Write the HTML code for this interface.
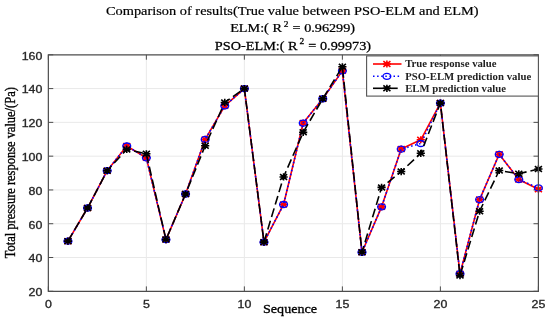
<!DOCTYPE html><html><head><meta charset="utf-8"><style>html,body{margin:0;padding:0;background:#fff;width:550px;height:320px;overflow:hidden}svg{display:block;filter:blur(0.3px)}</style></head><body>
<svg width="550" height="320" viewBox="0 0 550 320">
<rect width="550" height="320" fill="#fff"/>
<path d="M146.36,54.8V291.3M244.37,54.8V291.3M342.38,54.8V291.3M440.39,54.8V291.3M48.35,257.51H538.4M48.35,223.73H538.4M48.35,189.94H538.4M48.35,156.16H538.4M48.35,122.37H538.4M48.35,88.59H538.4" stroke="#e9e9e9" stroke-width="1" fill="none"/>
<path d="M48.35,291.3v-4.9M48.35,54.8v4.9M146.36,291.3v-4.9M146.36,54.8v4.9M244.37,291.3v-4.9M244.37,54.8v4.9M342.38,291.3v-4.9M342.38,54.8v4.9M440.39,291.3v-4.9M440.39,54.8v4.9M538.40,291.3v-4.9M538.40,54.8v4.9M48.35,291.30h4.9M538.4,291.30h-4.9M48.35,257.51h4.9M538.4,257.51h-4.9M48.35,223.73h4.9M538.4,223.73h-4.9M48.35,189.94h4.9M538.4,189.94h-4.9M48.35,156.16h4.9M538.4,156.16h-4.9M48.35,122.37h4.9M538.4,122.37h-4.9M48.35,88.59h4.9M538.4,88.59h-4.9M48.35,54.80h4.9M538.4,54.80h-4.9" stroke="#4d4d4d" stroke-width="1" fill="none"/>
<polyline points="67.95,241.13 87.55,208.02 107.16,170.69 126.76,146.02 146.36,157.85 165.96,239.61 185.56,194.00 205.17,139.43 224.77,105.82 244.37,88.59 263.97,242.14 283.57,204.47 303.18,123.05 322.78,98.72 342.38,70.85 361.98,252.28 381.58,206.84 401.19,149.06 420.79,139.77 440.39,103.11 459.99,273.73 479.59,199.57 499.20,154.30 518.80,179.47 538.40,189.27" stroke="#ff0000" stroke-width="1.6" fill="none" stroke-linejoin="round"/>
<path d="M63.85,241.13H72.05M67.95,237.53V244.73M64.43,238.25L71.48,244.01M64.43,244.01L71.48,238.25" stroke="#ff0000" stroke-width="1.6" fill="none"/>
<path d="M83.45,208.02H91.65M87.55,204.42V211.62M84.03,205.14L91.08,210.90M84.03,210.90L91.08,205.14" stroke="#ff0000" stroke-width="1.6" fill="none"/>
<path d="M103.06,170.69H111.26M107.16,167.09V174.28M103.63,167.81L110.68,173.56M103.63,173.56L110.68,167.81" stroke="#ff0000" stroke-width="1.6" fill="none"/>
<path d="M122.66,146.02H130.86M126.76,142.42V149.62M123.23,143.14L130.28,148.90M123.23,148.90L130.28,143.14" stroke="#ff0000" stroke-width="1.6" fill="none"/>
<path d="M142.26,157.85H150.46M146.36,154.25V161.45M142.83,154.97L149.89,160.73M142.83,160.73L149.89,154.97" stroke="#ff0000" stroke-width="1.6" fill="none"/>
<path d="M161.86,239.61H170.06M165.96,236.01V243.21M162.44,236.73L169.49,242.49M162.44,242.49L169.49,236.73" stroke="#ff0000" stroke-width="1.6" fill="none"/>
<path d="M181.46,194.00H189.66M185.56,190.40V197.60M182.04,191.12L189.09,196.88M182.04,196.88L189.09,191.12" stroke="#ff0000" stroke-width="1.6" fill="none"/>
<path d="M201.07,139.43H209.27M205.17,135.83V143.03M201.64,136.55L208.69,142.31M201.64,142.31L208.69,136.55" stroke="#ff0000" stroke-width="1.6" fill="none"/>
<path d="M220.67,105.82H228.87M224.77,102.22V109.42M221.24,102.94L228.29,108.70M221.24,108.70L228.29,102.94" stroke="#ff0000" stroke-width="1.6" fill="none"/>
<path d="M240.27,88.59H248.47M244.37,84.99V92.19M240.84,85.71L247.90,91.47M240.84,91.47L247.90,85.71" stroke="#ff0000" stroke-width="1.6" fill="none"/>
<path d="M259.87,242.14H268.07M263.97,238.54V245.74M260.45,239.26L267.50,245.02M260.45,245.02L267.50,239.26" stroke="#ff0000" stroke-width="1.6" fill="none"/>
<path d="M279.47,204.47H287.67M283.57,200.87V208.07M280.05,201.59L287.10,207.35M280.05,207.35L287.10,201.59" stroke="#ff0000" stroke-width="1.6" fill="none"/>
<path d="M299.08,123.05H307.28M303.18,119.45V126.65M299.65,120.17L306.70,125.93M299.65,125.93L306.70,120.17" stroke="#ff0000" stroke-width="1.6" fill="none"/>
<path d="M318.68,98.72H326.88M322.78,95.12V102.32M319.25,95.84L326.30,101.60M319.25,101.60L326.30,95.84" stroke="#ff0000" stroke-width="1.6" fill="none"/>
<path d="M338.28,70.85H346.48M342.38,67.25V74.45M338.85,67.97L345.91,73.73M338.85,73.73L345.91,67.97" stroke="#ff0000" stroke-width="1.6" fill="none"/>
<path d="M357.88,252.28H366.08M361.98,248.68V255.88M358.46,249.40L365.51,255.16M358.46,255.16L365.51,249.40" stroke="#ff0000" stroke-width="1.6" fill="none"/>
<path d="M377.48,206.84H385.68M381.58,203.24V210.44M378.06,203.96L385.11,209.72M378.06,209.72L385.11,203.96" stroke="#ff0000" stroke-width="1.6" fill="none"/>
<path d="M397.09,149.06H405.29M401.19,145.46V152.66M397.66,146.18L404.71,151.94M397.66,151.94L404.71,146.18" stroke="#ff0000" stroke-width="1.6" fill="none"/>
<path d="M416.69,139.77H424.89M420.79,136.17V143.37M417.26,136.89L424.31,142.65M417.26,142.65L424.31,136.89" stroke="#ff0000" stroke-width="1.6" fill="none"/>
<path d="M436.29,103.11H444.49M440.39,99.51V106.71M436.86,100.23L443.92,105.99M436.86,105.99L443.92,100.23" stroke="#ff0000" stroke-width="1.6" fill="none"/>
<path d="M455.89,273.73H464.09M459.99,270.13V277.33M456.47,270.85L463.52,276.61M456.47,276.61L463.52,270.85" stroke="#ff0000" stroke-width="1.6" fill="none"/>
<path d="M475.49,199.57H483.69M479.59,195.97V203.17M476.07,196.69L483.12,202.45M476.07,202.45L483.12,196.69" stroke="#ff0000" stroke-width="1.6" fill="none"/>
<path d="M495.10,154.30H503.30M499.20,150.70V157.90M495.67,151.42L502.72,157.18M495.67,157.18L502.72,151.42" stroke="#ff0000" stroke-width="1.6" fill="none"/>
<path d="M514.70,179.47H522.90M518.80,175.87V183.07M515.27,176.59L522.32,182.35M515.27,182.35L522.32,176.59" stroke="#ff0000" stroke-width="1.6" fill="none"/>
<path d="M534.30,189.27H542.50M538.40,185.67V192.87M534.87,186.39L541.93,192.15M534.87,192.15L541.93,186.39" stroke="#ff0000" stroke-width="1.6" fill="none"/>
<polyline points="67.95,241.13 87.55,208.02 107.16,170.69 126.76,146.02 146.36,157.85 165.96,239.61 185.56,194.00 205.17,139.43 224.77,105.82 244.37,88.59 263.97,242.14 283.57,204.47 303.18,123.05 322.78,98.72 342.38,70.85 361.98,252.28 381.58,206.84 401.19,149.06 420.79,143.49 440.39,103.11 459.99,273.73 479.59,199.57 499.20,154.30 518.80,179.47 538.40,187.92" stroke="#0000ff" stroke-width="1.6" fill="none" stroke-dasharray="1.5 2.6"/>
<ellipse cx="67.95" cy="241.13" rx="3.90" ry="3.00" stroke="#0000ff" stroke-width="1.35" fill="none"/>
<ellipse cx="87.55" cy="208.02" rx="3.90" ry="3.00" stroke="#0000ff" stroke-width="1.35" fill="none"/>
<ellipse cx="107.16" cy="170.69" rx="3.90" ry="3.00" stroke="#0000ff" stroke-width="1.35" fill="none"/>
<ellipse cx="126.76" cy="146.02" rx="3.90" ry="3.00" stroke="#0000ff" stroke-width="1.35" fill="none"/>
<ellipse cx="146.36" cy="157.85" rx="3.90" ry="3.00" stroke="#0000ff" stroke-width="1.35" fill="none"/>
<ellipse cx="165.96" cy="239.61" rx="3.90" ry="3.00" stroke="#0000ff" stroke-width="1.35" fill="none"/>
<ellipse cx="185.56" cy="194.00" rx="3.90" ry="3.00" stroke="#0000ff" stroke-width="1.35" fill="none"/>
<ellipse cx="205.17" cy="139.43" rx="3.90" ry="3.00" stroke="#0000ff" stroke-width="1.35" fill="none"/>
<ellipse cx="224.77" cy="105.82" rx="3.90" ry="3.00" stroke="#0000ff" stroke-width="1.35" fill="none"/>
<ellipse cx="244.37" cy="88.59" rx="3.90" ry="3.00" stroke="#0000ff" stroke-width="1.35" fill="none"/>
<ellipse cx="263.97" cy="242.14" rx="3.90" ry="3.00" stroke="#0000ff" stroke-width="1.35" fill="none"/>
<ellipse cx="283.57" cy="204.47" rx="3.90" ry="3.00" stroke="#0000ff" stroke-width="1.35" fill="none"/>
<ellipse cx="303.18" cy="123.05" rx="3.90" ry="3.00" stroke="#0000ff" stroke-width="1.35" fill="none"/>
<ellipse cx="322.78" cy="98.72" rx="3.90" ry="3.00" stroke="#0000ff" stroke-width="1.35" fill="none"/>
<ellipse cx="342.38" cy="70.85" rx="3.90" ry="3.00" stroke="#0000ff" stroke-width="1.35" fill="none"/>
<ellipse cx="361.98" cy="252.28" rx="3.90" ry="3.00" stroke="#0000ff" stroke-width="1.35" fill="none"/>
<ellipse cx="381.58" cy="206.84" rx="3.90" ry="3.00" stroke="#0000ff" stroke-width="1.35" fill="none"/>
<ellipse cx="401.19" cy="149.06" rx="3.90" ry="3.00" stroke="#0000ff" stroke-width="1.35" fill="none"/>
<ellipse cx="420.79" cy="143.49" rx="3.90" ry="3.00" stroke="#0000ff" stroke-width="1.35" fill="none"/>
<ellipse cx="440.39" cy="103.11" rx="3.90" ry="3.00" stroke="#0000ff" stroke-width="1.35" fill="none"/>
<ellipse cx="459.99" cy="273.73" rx="3.90" ry="3.00" stroke="#0000ff" stroke-width="1.35" fill="none"/>
<ellipse cx="479.59" cy="199.57" rx="3.90" ry="3.00" stroke="#0000ff" stroke-width="1.35" fill="none"/>
<ellipse cx="499.20" cy="154.30" rx="3.90" ry="3.00" stroke="#0000ff" stroke-width="1.35" fill="none"/>
<ellipse cx="518.80" cy="179.47" rx="3.90" ry="3.00" stroke="#0000ff" stroke-width="1.35" fill="none"/>
<ellipse cx="538.40" cy="187.92" rx="3.90" ry="3.00" stroke="#0000ff" stroke-width="1.35" fill="none"/>
<polyline points="67.95,241.13 87.55,208.02 107.16,170.69 126.76,149.40 146.36,153.79 165.96,239.61 185.56,194.00 205.17,145.68 224.77,102.44 244.37,88.59 263.97,242.14 283.57,176.94 303.18,132.34 322.78,98.72 342.38,66.79 361.98,252.28 381.58,187.41 401.19,171.53 420.79,153.29 440.39,103.11 459.99,275.59 479.59,211.23 499.20,170.52 518.80,173.73 538.40,169.00" stroke="#000" stroke-width="1.6" fill="none" stroke-dasharray="9 4"/>
<path d="M63.85,241.13H72.05M67.95,237.53V244.73M64.43,238.25L71.48,244.01M64.43,244.01L71.48,238.25" stroke="#000" stroke-width="1.6" fill="none"/>
<path d="M83.45,208.02H91.65M87.55,204.42V211.62M84.03,205.14L91.08,210.90M84.03,210.90L91.08,205.14" stroke="#000" stroke-width="1.6" fill="none"/>
<path d="M103.06,170.69H111.26M107.16,167.09V174.28M103.63,167.81L110.68,173.56M103.63,173.56L110.68,167.81" stroke="#000" stroke-width="1.6" fill="none"/>
<path d="M122.66,149.40H130.86M126.76,145.80V153.00M123.23,146.52L130.28,152.28M123.23,152.28L130.28,146.52" stroke="#000" stroke-width="1.6" fill="none"/>
<path d="M142.26,153.79H150.46M146.36,150.19V157.39M142.83,150.91L149.89,156.67M142.83,156.67L149.89,150.91" stroke="#000" stroke-width="1.6" fill="none"/>
<path d="M161.86,239.61H170.06M165.96,236.01V243.21M162.44,236.73L169.49,242.49M162.44,242.49L169.49,236.73" stroke="#000" stroke-width="1.6" fill="none"/>
<path d="M181.46,194.00H189.66M185.56,190.40V197.60M182.04,191.12L189.09,196.88M182.04,196.88L189.09,191.12" stroke="#000" stroke-width="1.6" fill="none"/>
<path d="M201.07,145.68H209.27M205.17,142.08V149.28M201.64,142.80L208.69,148.56M201.64,148.56L208.69,142.80" stroke="#000" stroke-width="1.6" fill="none"/>
<path d="M220.67,102.44H228.87M224.77,98.84V106.04M221.24,99.56L228.29,105.32M221.24,105.32L228.29,99.56" stroke="#000" stroke-width="1.6" fill="none"/>
<path d="M240.27,88.59H248.47M244.37,84.99V92.19M240.84,85.71L247.90,91.47M240.84,91.47L247.90,85.71" stroke="#000" stroke-width="1.6" fill="none"/>
<path d="M259.87,242.14H268.07M263.97,238.54V245.74M260.45,239.26L267.50,245.02M260.45,245.02L267.50,239.26" stroke="#000" stroke-width="1.6" fill="none"/>
<path d="M279.47,176.94H287.67M283.57,173.34V180.54M280.05,174.06L287.10,179.82M280.05,179.82L287.10,174.06" stroke="#000" stroke-width="1.6" fill="none"/>
<path d="M299.08,132.34H307.28M303.18,128.74V135.94M299.65,129.46L306.70,135.22M299.65,135.22L306.70,129.46" stroke="#000" stroke-width="1.6" fill="none"/>
<path d="M318.68,98.72H326.88M322.78,95.12V102.32M319.25,95.84L326.30,101.60M319.25,101.60L326.30,95.84" stroke="#000" stroke-width="1.6" fill="none"/>
<path d="M338.28,66.79H346.48M342.38,63.19V70.39M338.85,63.91L345.91,69.67M338.85,69.67L345.91,63.91" stroke="#000" stroke-width="1.6" fill="none"/>
<path d="M357.88,252.28H366.08M361.98,248.68V255.88M358.46,249.40L365.51,255.16M358.46,255.16L365.51,249.40" stroke="#000" stroke-width="1.6" fill="none"/>
<path d="M377.48,187.41H385.68M381.58,183.81V191.01M378.06,184.53L385.11,190.29M378.06,190.29L385.11,184.53" stroke="#000" stroke-width="1.6" fill="none"/>
<path d="M397.09,171.53H405.29M401.19,167.93V175.13M397.66,168.65L404.71,174.41M397.66,174.41L404.71,168.65" stroke="#000" stroke-width="1.6" fill="none"/>
<path d="M416.69,153.29H424.89M420.79,149.69V156.89M417.26,150.41L424.31,156.17M417.26,156.17L424.31,150.41" stroke="#000" stroke-width="1.6" fill="none"/>
<path d="M436.29,103.11H444.49M440.39,99.51V106.71M436.86,100.23L443.92,105.99M436.86,105.99L443.92,100.23" stroke="#000" stroke-width="1.6" fill="none"/>
<path d="M455.89,275.59H464.09M459.99,271.99V279.19M456.47,272.71L463.52,278.47M456.47,278.47L463.52,272.71" stroke="#000" stroke-width="1.6" fill="none"/>
<path d="M475.49,211.23H483.69M479.59,207.63V214.83M476.07,208.35L483.12,214.11M476.07,214.11L483.12,208.35" stroke="#000" stroke-width="1.6" fill="none"/>
<path d="M495.10,170.52H503.30M499.20,166.92V174.12M495.67,167.64L502.72,173.40M495.67,173.40L502.72,167.64" stroke="#000" stroke-width="1.6" fill="none"/>
<path d="M514.70,173.73H522.90M518.80,170.13V177.33M515.27,170.85L522.32,176.61M515.27,176.61L522.32,170.85" stroke="#000" stroke-width="1.6" fill="none"/>
<path d="M534.30,169.00H542.50M538.40,165.40V172.60M534.87,166.12L541.93,171.88M534.87,171.88L541.93,166.12" stroke="#000" stroke-width="1.6" fill="none"/>
<path d="M48.35,54.8H538.4V291.3H48.35Z" stroke="#4d4d4d" stroke-width="1.2" fill="none"/>
<text transform="translate(42.4,296.10) scale(1.24,1)" text-anchor="end" style="font-family:'Liberation Sans',Arial,sans-serif;font-size:10px" fill="#262626" stroke="#262626" stroke-width="0.3">20</text>
<text transform="translate(42.4,262.31) scale(1.24,1)" text-anchor="end" style="font-family:'Liberation Sans',Arial,sans-serif;font-size:10px" fill="#262626" stroke="#262626" stroke-width="0.3">40</text>
<text transform="translate(42.4,228.53) scale(1.24,1)" text-anchor="end" style="font-family:'Liberation Sans',Arial,sans-serif;font-size:10px" fill="#262626" stroke="#262626" stroke-width="0.3">60</text>
<text transform="translate(42.4,194.74) scale(1.24,1)" text-anchor="end" style="font-family:'Liberation Sans',Arial,sans-serif;font-size:10px" fill="#262626" stroke="#262626" stroke-width="0.3">80</text>
<text transform="translate(42.4,160.96) scale(1.24,1)" text-anchor="end" style="font-family:'Liberation Sans',Arial,sans-serif;font-size:10px" fill="#262626" stroke="#262626" stroke-width="0.3">100</text>
<text transform="translate(42.4,127.17) scale(1.24,1)" text-anchor="end" style="font-family:'Liberation Sans',Arial,sans-serif;font-size:10px" fill="#262626" stroke="#262626" stroke-width="0.3">120</text>
<text transform="translate(42.4,93.39) scale(1.24,1)" text-anchor="end" style="font-family:'Liberation Sans',Arial,sans-serif;font-size:10px" fill="#262626" stroke="#262626" stroke-width="0.3">140</text>
<text transform="translate(42.4,59.60) scale(1.24,1)" text-anchor="end" style="font-family:'Liberation Sans',Arial,sans-serif;font-size:10px" fill="#262626" stroke="#262626" stroke-width="0.3">160</text>
<text transform="translate(48.35,307.8) scale(1.24,1)" text-anchor="middle" style="font-family:'Liberation Sans',Arial,sans-serif;font-size:10px" fill="#262626" stroke="#262626" stroke-width="0.3">0</text>
<text transform="translate(146.36,307.8) scale(1.24,1)" text-anchor="middle" style="font-family:'Liberation Sans',Arial,sans-serif;font-size:10px" fill="#262626" stroke="#262626" stroke-width="0.3">5</text>
<text transform="translate(244.37,307.8) scale(1.24,1)" text-anchor="middle" style="font-family:'Liberation Sans',Arial,sans-serif;font-size:10px" fill="#262626" stroke="#262626" stroke-width="0.3">10</text>
<text transform="translate(342.38,307.8) scale(1.24,1)" text-anchor="middle" style="font-family:'Liberation Sans',Arial,sans-serif;font-size:10px" fill="#262626" stroke="#262626" stroke-width="0.3">15</text>
<text transform="translate(440.39,307.8) scale(1.24,1)" text-anchor="middle" style="font-family:'Liberation Sans',Arial,sans-serif;font-size:10px" fill="#262626" stroke="#262626" stroke-width="0.3">20</text>
<text transform="translate(538.40,307.8) scale(1.24,1)" text-anchor="middle" style="font-family:'Liberation Sans',Arial,sans-serif;font-size:10px" fill="#262626" stroke="#262626" stroke-width="0.3">25</text>
<text x="290" y="312.6" text-anchor="middle" style="font-family:'Liberation Serif','Times New Roman',serif;font-size:13px" stroke="#000" stroke-width="0.3" textLength="54" lengthAdjust="spacingAndGlyphs">Sequence</text>
<text transform="translate(14.9,172.7) rotate(-90) scale(1,1.14)" text-anchor="middle" style="font-family:'Liberation Serif','Times New Roman',serif;font-size:12.5px" stroke="#000" stroke-width="0.3" textLength="171" lengthAdjust="spacingAndGlyphs">Total pressure response value/(Pa)</text>
<text x="106" y="15" style="font-family:'Liberation Serif','Times New Roman',serif;font-size:12.8px" stroke="#000" stroke-width="0.2" textLength="372.5" lengthAdjust="spacingAndGlyphs">Comparison of results(True value between PSO-ELM and ELM)</text>
<text transform="translate(230.2,32) scale(1.11,1)" style="font-family:'Liberation Serif','Times New Roman',serif;font-size:12.8px" stroke="#000" stroke-width="0.25">ELM:( R<tspan dx="1.6" dy="-5.5" style="font-size:8.5px">2</tspan><tspan dx="0.6" dy="5.5"> = 0.96299)</tspan></text>
<text transform="translate(214.8,49.8) scale(1.115,1)" style="font-family:'Liberation Serif','Times New Roman',serif;font-size:12.8px" stroke="#000" stroke-width="0.25">PSO-ELM:( R<tspan dx="1.6" dy="-5.5" style="font-size:8.5px">2</tspan><tspan dx="0.6" dy="5.5"> = 0.99973)</tspan></text>
<rect x="366.6" y="55.9" width="171.80" height="40.20" fill="#fff" stroke="#555" stroke-width="1.1"/>
<path d="M373,64.0H401.5" stroke="#ff0000" stroke-width="1.6"/>
<path d="M382.80,64.00H391.00M386.90,60.40V67.60M383.37,61.12L390.43,66.88M383.37,66.88L390.43,61.12" stroke="#ff0000" stroke-width="1.6" fill="none"/>
<path d="M373,76.3H401" stroke="#0000ff" stroke-width="1.6" stroke-dasharray="1.5 2.6"/>
<ellipse cx="386.90" cy="76.30" rx="3.90" ry="3.00" stroke="#0000ff" stroke-width="1.35" fill="none"/>
<path d="M373,88.3H397.7" stroke="#000" stroke-width="1.6"/>
<path d="M382.80,88.30H391.00M386.90,84.70V91.90M383.37,85.42L390.43,91.18M383.37,91.18L390.43,85.42" stroke="#000" stroke-width="1.6" fill="none"/>
<text x="405.2" y="67.4" style="font-family:'Liberation Serif','Times New Roman',serif;font-weight:bold;font-size:10px;fill:#222" textLength="91.4" lengthAdjust="spacingAndGlyphs">True response value</text>
<text x="405.2" y="79.7" style="font-family:'Liberation Serif','Times New Roman',serif;font-weight:bold;font-size:10px;fill:#222" textLength="126" lengthAdjust="spacingAndGlyphs">PSO-ELM prediction value</text>
<text x="405.2" y="91.7" style="font-family:'Liberation Serif','Times New Roman',serif;font-weight:bold;font-size:10px;fill:#222" textLength="100.75" lengthAdjust="spacingAndGlyphs">ELM prediction value</text>
</svg></body></html>
